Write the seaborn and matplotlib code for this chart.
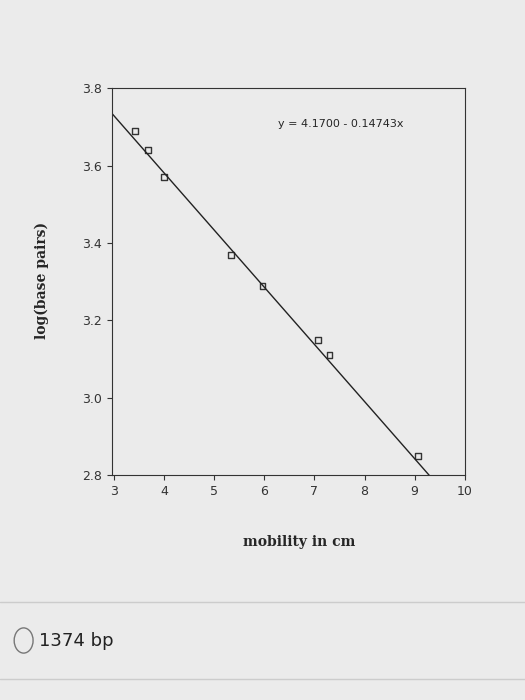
import numpy as np
import pandas as pd
import matplotlib
matplotlib.use("Agg")
import matplotlib.pyplot as plt
import seaborn as sns

# values
mobility = [3.42, 3.67, 4.0, 5.33, 5.96, 7.07, 7.3, 9.07]
log_bp = [3.69, 3.64, 3.57, 3.37, 3.29, 3.15, 3.11, 2.85]
intercept = 4.17
slope = -0.14743
x_ticks = [3, 4, 5, 6, 7, 8, 9, 10]
y_ticks = [2.8, 3.0, 3.2, 3.4, 3.6, 3.8]

df = pd.DataFrame({"mobility": mobility, "log_bp": log_bp})

sns.set_style("ticks")
fig = plt.figure(figsize=(5.25, 7), dpi=100, facecolor="#ebebeb")
ax = fig.add_axes([0.213, 0.321, 0.672, 0.553])
ax.set_facecolor("#ebebeb")

sns.scatterplot(data=df, x="mobility", y="log_bp", marker="s", s=18,
                facecolor="none", edgecolor="#333333", linewidth=1, ax=ax)

# regression line from the fitted equation
line_x = np.array([2.95, (2.8 - intercept) / slope])
sns.lineplot(x=line_x, y=intercept + slope * line_x, color="#222222", lw=1, ax=ax)

ax.set_xlim(2.95, 9.65)
ax.set_ylim(2.8, 3.8)
ax.set_xticks(x_ticks)
ax.set_yticks(y_ticks)
ax.set_yticklabels([f"{t:.1f}" for t in y_ticks])
ax.tick_params(labelsize=9, colors="#333333")
for s in ax.spines.values():
    s.set_color("#333333")
ax.set_xlabel("")
ax.set_ylabel("")
ax.text(0.47, 0.90, "y = 4.1700 - 0.14743x", transform=ax.transAxes, fontsize=8)

fig.text(0.57, 0.22, "mobility in cm", ha="center", fontsize=10,
         fontweight="bold", family="serif")
fig.text(0.065, 0.60, "log(base pairs)", va="center", rotation=90, fontsize=10,
         fontweight="bold", family="serif")

# answer option below the chart
fig.add_artist(plt.Line2D([0, 1], [0.14, 0.14], color="#cccccc", lw=1))
fig.add_artist(plt.Circle((0.045, 0.085), 0.018, fill=False, color="#777777",
                          transform=fig.transFigure))
fig.text(0.075, 0.085, "1374 bp", va="center", fontsize=13, color="#222222")
fig.add_artist(plt.Line2D([0, 1], [0.03, 0.03], color="#cccccc", lw=1))

fig.savefig("out.png", dpi=100, facecolor=fig.get_facecolor())
